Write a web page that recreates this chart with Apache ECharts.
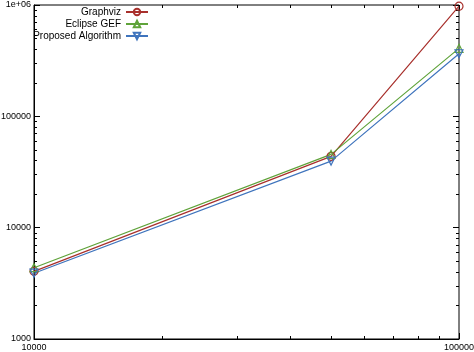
<!DOCTYPE html>
<html>
<head>
<meta charset="utf-8">
<script src="https://cdn.jsdelivr.net/npm/echarts@6/dist/echarts.min.js"></script>
<style>
html, body { margin: 0; padding: 0; background: #fff; }
#chart { width: 474px; height: 352px; }
</style>
</head>
<body>
<div id="chart"></div>
<script>
// problem sizes (x) and run times (y)
const sizes = [10000, 50000, 100000]
const graphviz = [4050, 43700, 975000]
const eclipseGef = [4370, 45500, 408000]
const proposed = [3900, 39600, 365000]

const xMajor = [10000, 100000]
const xMinor = [20000, 30000, 40000, 50000, 60000, 70000, 80000, 90000]
const yMajor = [1000, 10000, 100000, 1000000]
const yMinor = [2000, 3000, 4000, 5000, 6000, 7000, 8000, 9000,
    20000, 30000, 40000, 50000, 60000, 70000, 80000, 90000,
    200000, 300000, 400000, 500000, 600000, 700000, 800000, 900000]

const font = 'Liberation Sans'
const fmt = v => v >= 1000000 ? '1e+06' : String(v)

let chart = echarts.init(document.getElementById('chart'))

// one axis with labels, plus hidden copies for the mirrored / minor ticks
let xAx = (pos, ticks, len, labels) => ({
    type: 'log', logBase: 10, min: 10000, max: 100000, position: pos,
    axisLine: { show: labels, lineStyle: { color: '#000', width: 1 } },
    axisTick: { show: true, inside: true, length: len, customValues: ticks, lineStyle: { color: '#000' } },
    axisLabel: { show: labels, customValues: xMajor, formatter: fmt, color: '#000', fontFamily: font, fontSize: 9, margin: 4 },
    splitLine: { show: false }
})
let yAx = (pos, ticks, len, labels) => ({
    type: 'log', logBase: 10, min: 1000, max: 1000000, position: pos,
    axisLine: { show: labels, lineStyle: { color: '#000', width: 1 } },
    axisTick: { show: true, inside: true, length: len, customValues: ticks, lineStyle: { color: '#000' } },
    axisLabel: { show: labels, customValues: yMajor, formatter: fmt, color: '#000', fontFamily: font, fontSize: 9, margin: 3 },
    splitLine: { show: false }
})

let mk = (name, data, color, symbol, rot) => ({
    name: name,
    type: 'line',
    data: sizes.map((s, i) => [s, data[i]]),
    symbol: symbol,
    symbolSize: 8,
    symbolRotate: rot,
    showSymbol: true,
    itemStyle: { color: 'transparent', borderColor: color, borderWidth: 1.2 },
    lineStyle: { color: color, width: 1.2 },
    emphasis: { disabled: true },
    animation: false
})

let option = {
    animation: false,
    grid: { left: 34, right: 15, top: 5, bottom: 13, outerBoundsMode: 'none', show: true, borderColor: '#000', borderWidth: 1 },
    legend: {
        orient: 'vertical',
        align: 'right',
        right: 320,
        top: 2,
        itemWidth: 22,
        itemHeight: 8,
        itemGap: 2,
        textStyle: { fontFamily: font, fontSize: 10, color: '#000' },
        data: ['Graphviz', 'Eclipse GEF', 'Proposed Algorithm']
    },
    xAxis: [
        xAx('bottom', xMajor, 6, true),
        xAx('bottom', xMinor, 3, false),
        xAx('top', xMajor, 6, false),
        xAx('top', xMinor, 3, false)
    ],
    yAxis: [
        yAx('left', yMajor, 6, true),
        yAx('left', yMinor, 3, false),
        yAx('right', yMajor, 6, false),
        yAx('right', yMinor, 3, false)
    ],
    series: [
        mk('Graphviz', graphviz, '#a8302c', 'circle', 0),
        mk('Eclipse GEF', eclipseGef, '#5fa33a', 'triangle', 0),
        mk('Proposed Algorithm', proposed, '#3f74bd', 'triangle', 180)
    ]
}

chart.setOption(option)
</script>
</body>
</html>
